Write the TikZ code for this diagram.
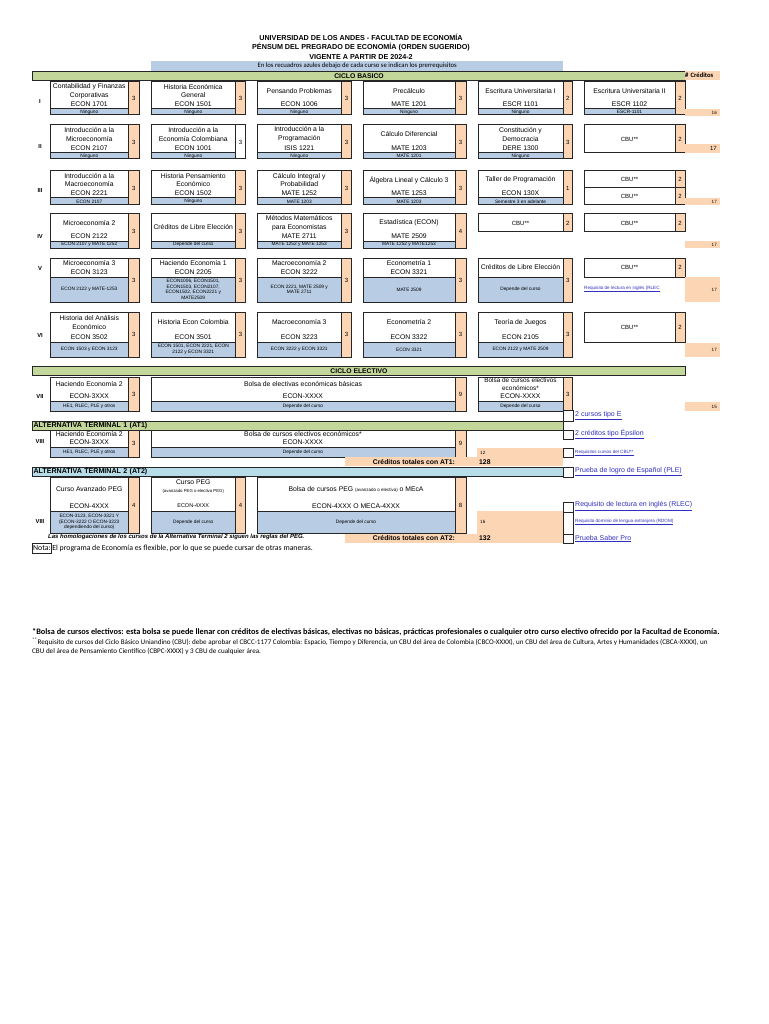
\documentclass[tikz,border=0pt]{standalone}
\usepackage{fontspec}
\setmainfont{Liberation Sans}
\newfontfamily\calfont{Carlito}
\definecolor{peach}{HTML}{FCD5B4}
\definecolor{pblue}{HTML}{B8CCE4}
\definecolor{pgreen}{HTML}{C4D79B}
\definecolor{pcyan}{HTML}{B7DEE8}
\definecolor{lnk}{HTML}{3030C0}
\definecolor{bord}{HTML}{262626}
\newcommand\zzN{\fontsize{6.8}{8.6}\selectfont}
\newcommand\zzP{\fontsize{4.8}{5.6}\selectfont}
\newcommand\zzK{\fontsize{6}{7}\selectfont}
\newcommand\zzT{\fontsize{7.2}{8}\selectfont\bfseries}
\newcommand\zzS{\fontsize{4.6}{5.5}\selectfont}
\newcommand\zzL{\fontsize{7}{8}\selectfont}
\newcommand\setcol[3]{\def\cL{#1}\def\cR{#2}\def\cC{#3}}
\newcommand\setrow[3]{\def\rT{#1}\def\rB{#2}\def\rE{#3}}
\newcommand\colA{\setcol{50}{128.5}{139}}
\newcommand\colB{\setcol{151}{235.5}{245.5}}
\newcommand\colC{\setcol{257}{341.5}{351.5}}
\newcommand\colD{\setcol{363}{455}{466}}
\newcommand\colE{\setcol{478}{563}{572.5}}
\newcommand\colF{\setcol{584}{675}{685}}
\newcommand\mycourse[6]{%
  \node[wbox, minimum width={\cR-\cL}, minimum height={\rB-\rT}] (#1) at (\cL,\rT) {};
  \node[nm] (#1n) at ({(\cL+\cR)/2},{(\rT+\rB-9)/2}) {#2};
  \node[nm] (#1c) at ({(\cL+\cR)/2},{\rB-5}) {#3};
  \node[bbox, minimum width={\cR-\cL}, minimum height={\rE-\rB}] (#1p) at (\cL,\rB) {#4};
  \node[kbox, fill=#6, minimum width={\cC-\cR}, minimum height={\rE-\rT}] (#1k) at (\cR,\rT) {#5};
}
\newcommand\mycbu[4]{%
  \node[wbox, font=\zzK, minimum width={\cR-\cL}, minimum height={#3-#2}] (#1) at (\cL,#2) {CBU**};
  \node[kbox, minimum width={\cC-\cR}, minimum height={#3-#2}] (#1k) at (\cR,#2) {#4};
}
\newcommand\mytot[7]{%
  \node[fill=peach, inner sep=0pt, anchor=north west, minimum width={#4-#2}, minimum height={#5-#3}] (#1) at (#2,#3) {};
  \node[font=#7, anchor=east, inner sep=0pt] (#1t) at ({#4-3},{(#3+#5)/2}) {#6};
}
\begin{document}
\begin{tikzpicture}[x=1pt,y=-1pt,
  box/.style={draw=bord, line width=1pt, inner sep=0pt, outer sep=0pt, anchor=north west},
  wbox/.style={box, fill=white},
  bbox/.style={box, fill=pblue, font=\zzP, align=center},
  kbox/.style={box, fill=peach, font=\zzK},
  nm/.style={inner sep=0pt, font=\zzN, align=center},
  rom/.style={font=\fontsize{5.8}{6}\selectfont\bfseries, inner sep=0pt},
  bar/.style={draw=bord, line width=1pt, anchor=north west, inner sep=0pt, minimum height=9, font=\fontsize{6.8}{7}\selectfont\bfseries},
  lk/.style={text=lnk, anchor=west, inner sep=0pt, font=\zzL},
  lks/.style={lk, font=\zzS},
  chk/.style={draw=bord, line width=1pt, anchor=north west, inner sep=0pt, minimum width=10, fill=white},
  tl/.style={font=\zzT, inner sep=0pt},
  totl/.style={font=\fontsize{6.8}{7}\selectfont\bfseries, inner sep=0pt}
]
\useasboundingbox[fill=white] (0,0) rectangle (768,1024);

% header
\node[tl] (h1) at (361,37) {UNIVERSIDAD DE LOS ANDES - FACULTAD DE ECONOMÍA};
\node[tl] (h2) at (361,47) {PÉNSUM DEL PREGRADO DE ECONOMÍA (ORDEN SUGERIDO)};
\node[tl] (h3) at (361,57) {VIGENTE A PARTIR DE 2024-2};
\node[fill=pblue, anchor=north west, minimum width=412, minimum height=10, inner sep=0pt, font=\calfont\fontsize{6.7}{7}\selectfont] (h4) at (151,61) {En los recuadros azules debajo de cada curso se indican los prerrequisitos};
\node[bar, fill=pgreen, minimum width=653] (cb) at (32,71) {CICLO BASICO};
\node[fill=peach, anchor=north west, inner sep=0pt, minimum height=9, text width=35pt, align=left, font=\calfont\bfseries\fontsize{6.6}{7}\selectfont] (hc) at (685,71) {\#~Créditos};

% Row I
\setrow{82}{109}{115}
\colA\mycourse{a1}{Contabilidad y Finanzas\\Corporativas}{ECON 1701}{Ninguno}{3}{peach}
\colB\mycourse{a2}{Historia Económica\\General}{ECON 1501}{Ninguno}{3}{peach}
\colC\mycourse{a3}{Pensando Problemas}{ECON 1006}{Ninguno}{3}{peach}
\colD\mycourse{a4}{Precálculo}{MATE 1201}{Ninguno}{3}{peach}
\colE\mycourse{a5}{Escritura Universitaria I}{ESCR 1101}{Ninguno}{2}{peach}
\colF\mycourse{a6}{Escritura Universitaria II}{ESCR 1102}{ESCR-1101}{2}{peach}
\mytot{t1}{685}{109}{720}{116}{16}{\zzS}
\node[rom] (r1) at (40,102) {I};

% Row II
\setrow{125}{153}{159}
\colA\mycourse{b1}{Introducción a la\\Microeconomía}{ECON 2107}{Ninguno}{3}{peach}
\colB\mycourse{b2}{Introducción a la\\Economía Colombiana}{ECON 1001}{Ninguno}{3}{white}
\colC\mycourse{b3}{Introducción a la\\Programación}{ISIS 1221}{Ninguno}{3}{peach}
\colD\mycourse{b4}{Cálculo Diferencial}{MATE 1203}{MATE 1201}{3}{peach}
\colE\mycourse{b5}{Constitución y\\Democracia}{DERE 1300}{Ninguno}{3}{peach}
\colF\mycbu{b6}{125}{153}{2}
\mytot{t2}{685}{144}{720}{153}{17}{\zzK}
\node[rom] (r2) at (40,147) {II};

% Row III
\setrow{171}{198}{205}
\colA\mycourse{c1}{Introducción a la\\Macroeconomía}{ECON 2221}{ECON 2107}{3}{peach}
\colB\mycourse{c2}{Historia Pensamiento\\Económico}{ECON 1502}{Ninguno}{3}{peach}
\colC\mycourse{c3}{Cálculo Integral y\\Probabilidad}{MATE 1252}{MATE 1203}{3}{peach}
\colD\mycourse{c4}{Álgebra Lineal y Cálculo 3}{MATE 1253}{MATE 1203}{3}{peach}
\colE\mycourse{c5}{Taller de Programación}{ECON 130X}{Semestre 3 en adelante}{1}{peach}
\colF\mycbu{c6}{171}{188}{2}
\mycbu{c7}{188}{205}{2}
\mytot{t3}{685}{198}{720}{205}{17}{\zzS}
\node[rom] (r3) at (40,191) {III};

% Row IV
\setrow{214}{241}{248}
\colA\mycourse{d1}{Microeconomía 2}{ECON 2122}{ECON 2107 y MATE 1252}{3}{peach}
\colB\mycourse{d2}{}{}{Depende del curso}{3}{peach}
\node[nm] (d2x) at (193.25,227.5) {Créditos de Libre Elección};
\colC\mycourse{d3}{Métodos Matemáticos\\para Economistas}{MATE 2711}{MATE 1252 y MATE 1253}{3}{peach}
\colD\mycourse{d4}{Estadística (ECON)}{MATE 2509}{MATE 1252 y MATE1253}{4}{peach}
\colE\mycbu{d5}{214}{232}{2}
\colF\mycbu{d6}{214}{232}{2}
\mytot{t4}{685}{241}{720}{248}{17}{\zzS}
\node[rom] (r4) at (40,237) {IV};

% Row V
\setrow{258}{277}{302}
\colA\mycourse{e1}{Microeconomía 3}{ECON 3123}{ECON 2122 y MATE-1253}{3}{peach}
\colB\mycourse{e2}{Haciendo Economía 1}{ECON 2205}{ECON1006, ECON1501,\\ECON1503, ECON2107,\\ECON1502, ECON2221 y\\MATE2509}{3}{peach}
\colC\mycourse{e3}{Macroeconomía 2}{ECON 3222}{ECON 2221, MATE 2509 y\\MATE 2711}{3}{peach}
\colD\mycourse{e4}{Econometría 1}{ECON 3321}{MATE 2509}{3}{peach}
\colE\mycourse{e5}{}{}{Depende del curso}{3}{peach}
\node[nm] (e5x) at (520.5,267.5) {Créditos de Libre Elección};
\colF\mycbu{e6}{258}{277}{2}
\node[lks] (e7) at (584,289) {\underline{Requisito de lectura en inglés (RLEC}};
\mytot{t5}{685}{277}{720}{302}{17}{\zzS}
\node[rom] (r5) at (40,269) {V};

% Row VI
\setrow{312}{342}{357}
\colA\mycourse{f1}{Historia del Análisis\\Económico}{ECON 3502}{ECON 1503 y ECON 3123}{3}{peach}
\colB\mycourse{f2}{Historia Econ Colombia}{ECON 3501}{ECON 1501, ECON 2221, ECON\\2122 y ECON 3321}{3}{peach}
\colC\mycourse{f3}{Macroeconomía 3}{ECON 3223}{ECON 3222 y ECON 3321}{3}{peach}
\colD\mycourse{f4}{Econometría 2}{ECON 3322}{ECON 3321}{3}{peach}
\colE\mycourse{f5}{Teoría de Juegos}{ECON 2105}{ECON 2122 y MATE 2509}{3}{peach}
\colF\mycbu{f6}{312}{342}{2}
\mytot{t6}{685}{343}{720}{357}{17}{\zzS}
\node[rom] (r6) at (40,336) {VI};

% Ciclo electivo
\node[bar, fill=pgreen, minimum width=653] (ce) at (32,366) {CICLO ELECTIVO};
\setrow{377}{401}{411}
\colA\mycourse{g1}{Haciendo Economía 2}{ECON-3XXX}{HE1, RLEC, PLE y otros}{3}{peach}
\setcol{151}{455}{466}\mycourse{g2}{Bolsa de electivas económicas básicas}{ECON-XXXX}{Depende del curso}{9}{peach}
\colE\mycourse{g3}{}{ECON-XXXX}{Depende del curso}{3}{peach}
\node[nm, font=\fontsize{6.4}{7.8}\selectfont] (g3x) at (520.5,384.5) {Bolsa de cursos electivos\\económicos*};
\mytot{t7}{685}{402}{720}{411}{15}{\zzS}
\node[rom] (r7) at (40,397) {VII};

\node[chk, minimum height=11] (k1) at (563,410) {};
\node[lk] (l1) at (575,416) {\underline{2 cursos tipo E}};

% AT1
\node[bar, fill=pgreen, text width=529pt, inner xsep=1pt, align=left, font=\fontsize{7.1}{7}\selectfont\bfseries] (at1) at (32,421) {ALTERNATIVA TERMINAL 1 (AT1)};
\setrow{430}{447}{457}
\colA\mycourse{h1}{Haciendo Economía 2}{ECON-3XXX}{HE1, RLEC, PLE y otros}{3}{peach}
\setcol{151}{455}{466}\mycourse{h2}{Bolsa de cursos electivos económicos*}{ECON-XXXX}{Depende del curso}{9}{peach}
\node[rom] (r8) at (40,442) {VIII};
\node[chk, minimum height=9] (k2) at (563,430) {};
\node[lk] (l2) at (575,434) {\underline{2 créditos tipo Épsilon}};
\node[fill=peach, anchor=north west, inner sep=0pt, minimum width=86, minimum height=9] (o12) at (477,448) {};
\node[font=\zzS, anchor=west, inner sep=0pt] (o12t) at (480,452.5) {12};
\node[chk, minimum height=9] (k3) at (563,448) {};
\node[lks] (l3) at (575,453) {\underline{Requisitos cursos del CBU**}};
\node[fill=peach, anchor=north west, inner sep=0pt, minimum width=218, minimum height=9] (ct1) at (345,457) {};
\node[totl, anchor=east] (ct1a) at (455,462) {Créditos totales con AT1:};
\node[totl, anchor=west] (ct1b) at (479,462) {128};

% AT2
\node[bar, fill=pcyan, text width=529pt, inner xsep=1pt, align=left, font=\fontsize{7.1}{7}\selectfont\bfseries] (at2) at (32,467) {ALTERNATIVA TERMINAL 2 (AT2)};
\node[chk, minimum height=10] (k4) at (563,467) {};
\node[lk] (l4) at (575,472) {\underline{Prueba de logro de Español (PLE)}};
\setrow{477}{511}{533}
\colA\mycourse{i1}{Curso Avanzado PEG}{ECON-4XXX}{ECON-3123, ECON-3321 Y\\(ECON-3222 O ECON-3223\\dependiendo del curso)}{4}{peach}
\colB\mycourse{i2}{}{}{Depende del curso}{4}{peach}
\node[nm] (i2a) at (193.25,482) {Curso PEG};
\node[nm, font=\fontsize{4.3}{5}\selectfont] (i2b) at (193.25,491) {(avanzado PEG o electiva PEG)};
\node[nm, font=\fontsize{5.5}{6}\selectfont] (i2c) at (193.25,506) {ECON-4XXX};
\setcol{257}{455}{466}\mycourse{i3}{Bolsa de cursos PEG {\fontsize{4.5}{5}\selectfont(avanzado o electiva)} o MEcA}{ECON-4XXX O MECA-4XXX}{Depende del curso}{8}{peach}
\node[rom] (r9) at (40,522) {VIII};
\node[fill=peach, anchor=north west, inner sep=0pt, minimum width=86, minimum height=23] (o16) at (477,511) {};
\node[font=\zzS, anchor=west, inner sep=0pt] (o16t) at (480,522) {16};
\node[chk, minimum height=10] (k5) at (563,502) {};
\node[lk] (l5) at (575,506) {\underline{Requisito de lectura en inglés (RLEC)}};
\node[chk, minimum height=22] (k6) at (563,512) {};
\node[lks] (l6) at (575,522) {\underline{Requisito dominio de lengua extranjera (RDOM)}};
\node[fill=peach, anchor=north west, inner sep=0pt, minimum width=218, minimum height=9] (ct2) at (345,534) {};
\node[totl, anchor=east] (ct2a) at (455,538.5) {Créditos totales con AT2:};
\node[totl, anchor=west] (ct2b) at (479,538.5) {132};
\node[chk, minimum height=9] (k7) at (563,534) {};
\node[lk] (l7) at (575,538.5) {\underline{Prueba Saber Pro}};
\node[anchor=west, inner sep=0pt, font=\bfseries\itshape\fontsize{6}{6}\selectfont] (hom) at (48,537) {Las homologaciones de los cursos de la Alternativa Terminal 2 siguen las reglas del PEG.};

% Nota
\node[draw=bord, line width=1pt, anchor=north west, inner sep=0.6pt, minimum height=10, font=\calfont\fontsize{7.8}{8}\selectfont] (nota) at (32,543) {Nota:};
\node[anchor=west, inner sep=0.5pt, font=\calfont\fontsize{7.8}{8}\selectfont] (notat) at (nota.east) {El programa de Economía es flexible, por lo que se puede cursar de otras maneras.};

% footnotes
\node[anchor=west, inner sep=0pt, font=\calfont\bfseries\fontsize{8.3}{9}\selectfont] (fn1) at (32,632) {*Bolsa de cursos electivos: esta bolsa se puede llenar con créditos de electivas básicas, electivas no básicas, prácticas profesionales o cualquier otro curso electivo ofrecido por la Facultad de Economía.};
\node[anchor=west, inner sep=0pt, font=\calfont\fontsize{7.1}{8}\selectfont] (fn2) at (32,642) {\textsuperscript{**}Requisito de cursos del Ciclo Básico Uniandino (CBU): debe aprobar el CBCC-1177 Colombia: Espacio, Tiempo y Diferencia, un CBU del área de Colombia (CBCO-XXXX), un CBU del área de Cultura, Artes y Humanidades (CBCA-XXXX), un};
\node[anchor=west, inner sep=0pt, font=\calfont\fontsize{7.1}{8}\selectfont] (fn3) at (32,651) {CBU del área de Pensamiento Científico (CBPC-XXXX) y 3 CBU de cualquier área.};
\end{tikzpicture}
\end{document}
